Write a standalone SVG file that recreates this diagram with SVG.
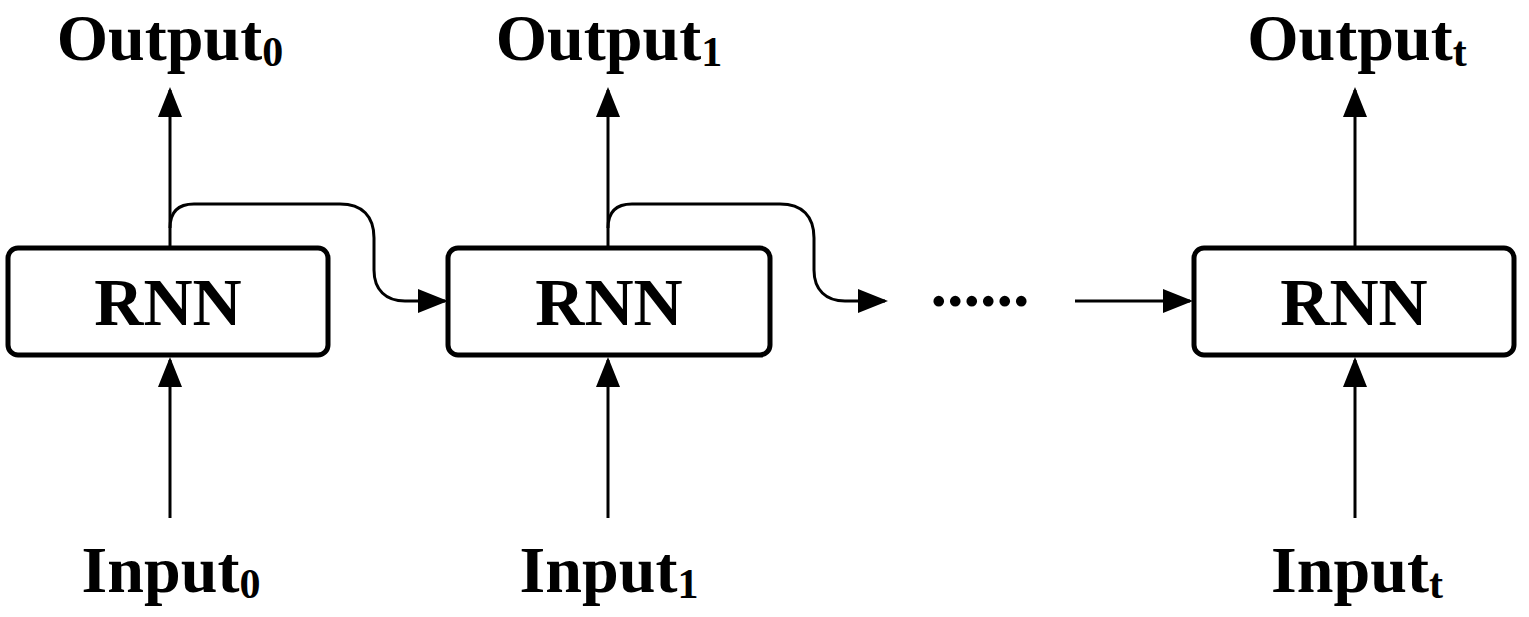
<svg xmlns="http://www.w3.org/2000/svg" width="1529" height="617" viewBox="0 0 1529 617">
<style>
.box{fill:#fff;stroke:#000;stroke-width:5}
.ln{fill:none;stroke:#000;stroke-width:3;marker-end:url(#ah)}
text{font-family:"Liberation Serif",serif;font-weight:bold;fill:#000}
.lab{font-size:66px;text-anchor:middle}
.rnn{font-size:68px;text-anchor:middle}
.sub{font-size:42px}
</style>
<defs><marker id="ah" markerWidth="10" markerHeight="8" refX="9" refY="4" orient="auto" markerUnits="strokeWidth"><path d="M0,0L10,4L0,8z" fill="#000"/></marker></defs>
<rect width="1529" height="617" fill="#fff"/>
<g id="connectors">
<path class="ln" d="M170,248V90"/>
<path class="ln" d="M608,248V90"/>
<path class="ln" d="M1355,248V90"/>
<path class="ln" d="M170,518V360"/>
<path class="ln" d="M608,518V360"/>
<path class="ln" d="M1355,518V360"/>
<path class="ln" d="M170,228C170,212 178,204 194,204H340C362,204 374,216 374,238V270C374,290 386,301 405,301H445"/>
<path class="ln" d="M608,228C608,212 616,204 632,204H780C802,204 814,216 814,238V270C814,290 826,301 845,301H885"/>
<path class="ln" d="M1075,301H1190"/>
</g>
<g id="n1"><rect class="box" x="8" y="248" width="320" height="107" rx="10"/><text class="rnn" x="168" y="325">RNN</text></g>
<g id="n2"><rect class="box" x="448" y="248" width="322" height="107" rx="10"/><text class="rnn" x="609" y="325">RNN</text></g>
<g id="n3"><rect class="box" x="1194" y="248" width="320" height="107" rx="10"/><text class="rnn" x="1354" y="325">RNN</text></g>
<g id="dots"><text x="980" y="306" font-size="66px" text-anchor="middle">......</text></g>
<g id="labels">
<text class="lab" x="170" y="60">Output<tspan class="sub" dy="6">0</tspan></text>
<text class="lab" x="609" y="60">Output<tspan class="sub" dy="6">1</tspan></text>
<text class="lab" x="1357" y="60">Output<tspan class="sub" dy="6">t</tspan></text>
<text class="lab" x="171" y="592">Input<tspan class="sub" dy="6">0</tspan></text>
<text class="lab" x="609" y="592">Input<tspan class="sub" dy="6">1</tspan></text>
<text class="lab" x="1357" y="592">Input<tspan class="sub" dy="6">t</tspan></text>
</g>
</svg>
